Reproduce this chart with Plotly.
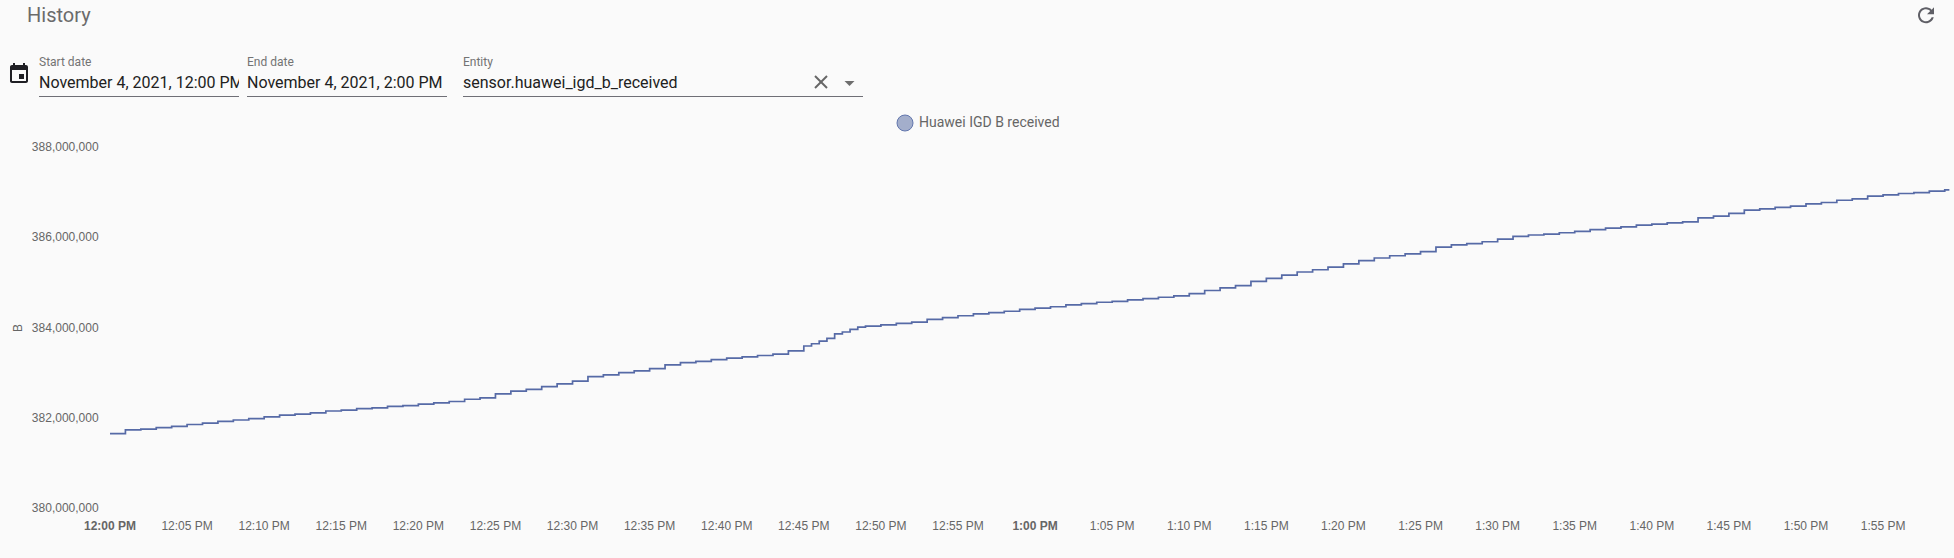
from datetime import datetime, timedelta
import plotly.graph_objects as go

# minutes after 12:00 PM and sensor reading in millions of bytes
minutes = [0, 1, 2, 3, 4, 5, 6, 7, 8, 9, 10, 11, 12, 13, 14, 15, 16, 17, 18, 19,
           20, 21, 22, 23, 24, 25, 26, 27, 28, 29, 30, 31, 32, 33, 34, 35, 36, 37, 38, 39,
           40, 41, 42, 43, 44, 45, 45.5, 46, 46.5, 47, 47.5, 48, 48.5, 49,
           50, 51, 52, 53, 54, 55, 56, 57, 58, 59,
           60, 61, 62, 63, 64, 65, 66, 67, 68, 69, 70, 71, 72, 73, 74, 75, 76, 77, 78, 79,
           80, 81, 82, 83, 84, 85, 86, 87, 88, 89, 90, 91, 92, 93, 94, 95, 96, 97, 98, 99,
           100, 101, 102, 103, 104, 105, 106, 107, 108, 109, 110, 111, 112, 113, 114, 115,
           116, 117, 118, 119, 119.3]
received = [381.65, 381.73, 381.75, 381.78, 381.81, 381.85, 381.88, 381.92, 381.95, 381.98,
            382.02, 382.06, 382.08, 382.11, 382.15, 382.17, 382.20, 382.22, 382.25, 382.27,
            382.30, 382.33, 382.36, 382.41, 382.44, 382.53, 382.59, 382.63, 382.69, 382.75,
            382.81, 382.91, 382.95, 383.00, 383.04, 383.09, 383.17, 383.22, 383.25, 383.29,
            383.32, 383.35, 383.38, 383.41, 383.48, 383.59, 383.64, 383.70, 383.76, 383.86,
            383.90, 383.96, 384.01, 384.03,
            384.06, 384.09, 384.12, 384.18, 384.22, 384.26, 384.30, 384.33, 384.36, 384.40,
            384.43, 384.46, 384.50, 384.53, 384.56, 384.58, 384.61, 384.64, 384.67, 384.70,
            384.75, 384.82, 384.88, 384.93, 385.02, 385.09, 385.16, 385.23, 385.28, 385.34,
            385.41, 385.48, 385.54, 385.59, 385.63, 385.68, 385.78, 385.83, 385.86, 385.90,
            385.96, 386.02, 386.05, 386.07, 386.10, 386.13, 386.17, 386.20, 386.23, 386.27,
            386.29, 386.32, 386.34, 386.43, 386.47, 386.53, 386.60, 386.63, 386.66, 386.69,
            386.74, 386.77, 386.82, 386.85, 386.91, 386.94, 386.97, 386.99, 387.02, 387.05,
            387.05]

tick_minutes = [0, 5, 10, 15, 20, 25, 30, 35, 40, 45, 50, 55,
                60, 65, 70, 75, 80, 85, 90, 95, 100, 105, 110, 115]
tick_labels = ["<b>12:00 PM</b>", "12:05 PM", "12:10 PM", "12:15 PM", "12:20 PM", "12:25 PM",
               "12:30 PM", "12:35 PM", "12:40 PM", "12:45 PM", "12:50 PM", "12:55 PM",
               "<b>1:00 PM</b>", "1:05 PM", "1:10 PM", "1:15 PM", "1:20 PM", "1:25 PM",
               "1:30 PM", "1:35 PM", "1:40 PM", "1:45 PM", "1:50 PM", "1:55 PM"]
y_ticks = [380000000, 382000000, 384000000, 386000000, 388000000]

WIDTH, HEIGHT = 1954, 558
LEFT, RIGHT, TOP, BOTTOM = 110, 0, 147, 50
PLOT_W = WIDTH - LEFT - RIGHT
PLOT_H = HEIGHT - TOP - BOTTOM
BG = "#fafafa"
LINE = "#566aa6"
start = datetime(2021, 11, 4, 12, 0)


def at(m):
    return start + timedelta(minutes=m)


# page pixels to paper fractions, for the form controls around the chart
def fx(px):
    return (px - LEFT) / PLOT_W


def fy(py):
    return 1 - (py - TOP) / PLOT_H


def label(text, x, y, size, color, **kw):
    return dict(text=text, x=fx(x), y=fy(y), xref="paper", yref="paper", xanchor="left",
                yanchor="middle", showarrow=False, align="left", borderpad=0, borderwidth=0,
                font=dict(family="Roboto", size=size, color=color), **kw)


def rule(x0, x1, y, color="#6f6f76"):
    return dict(type="line", xref="paper", yref="paper", x0=fx(x0), x1=fx(x1), y0=fy(y), y1=fy(y),
                line=dict(color=color, width=1))


def icon(path, ox, oy, color):
    # path is a list of commands in the 24px icon grid
    out = []
    for cmd in path:
        nums = cmd[1:]
        pts = []
        for i in range(0, len(nums), 2):
            pts.append(f"{fx(ox + nums[i]):.6f},{fy(oy + nums[i + 1]):.6f}")
        out.append(cmd[0] + " ".join(pts))
    return dict(type="path", xref="paper", yref="paper", path=" ".join(out) + " Z",
                fillcolor=color, line=dict(width=0))


calendar = [("M", 5, 3), ("L", 6, 3), ("L", 6, 1), ("L", 8, 1), ("L", 8, 3), ("L", 16, 3), ("L", 16, 1),
            ("L", 18, 1), ("L", 18, 3), ("L", 19, 3), ("C", 20.1, 3, 21, 3.9, 21, 5), ("L", 21, 19),
            ("C", 21, 20.1, 20.1, 21, 19, 21), ("L", 5, 21), ("C", 3.9, 21, 3, 20.1, 3, 19), ("L", 3, 5),
            ("C", 3, 3.9, 3.9, 3, 5, 3),
            ("M", 5, 8), ("L", 5, 19), ("L", 19, 19), ("L", 19, 8), ("L", 5, 8),
            ("M", 12, 12), ("L", 17, 12), ("L", 17, 17), ("L", 12, 17), ("L", 12, 12)]
refresh = [("M", 17.65, 6.35), ("C", 16.2, 4.9, 14.21, 4, 12, 4), ("C", 7.58, 4, 4, 7.58, 4, 12),
           ("C", 4, 16.42, 7.58, 20, 12, 20), ("C", 15.73, 20, 18.84, 17.45, 19.73, 14), ("L", 17.65, 14),
           ("C", 16.83, 16.33, 14.61, 18, 12, 18), ("C", 8.69, 18, 6, 15.31, 6, 12),
           ("C", 6, 8.69, 8.69, 6, 12, 6), ("C", 13.66, 6, 15.14, 6.69, 16.22, 7.78), ("L", 13, 11),
           ("L", 20, 11), ("L", 20, 4), ("L", 17.65, 6.35)]
arrow = [("M", 0, 0), ("L", 10, 0), ("L", 5, 5), ("L", 0, 0)]

fig = go.Figure()
fig.add_trace(go.Scatter(x=[at(m) for m in minutes], y=[v * 1000000 for v in received],
                         mode="lines", line=dict(color=LINE, width=1.7, shape="hv"),
                         hoverinfo="skip", showlegend=False))

shapes = [
    rule(39, 239, 96.5), rule(247, 447, 96.5), rule(463, 863, 96.5),
    icon(calendar, 7, 62, "#1f1f24"),
    icon(refresh, 1914, 3.3, "#5f5f66"),
    icon(arrow, 844.5, 81, "#6e6e6e"),
    dict(type="line", xref="paper", yref="paper", x0=fx(815), x1=fx(827), y0=fy(76), y1=fy(88),
         line=dict(color="#666666", width=2)),
    dict(type="line", xref="paper", yref="paper", x0=fx(815), x1=fx(827), y0=fy(88), y1=fy(76),
         line=dict(color="#666666", width=2)),
    dict(type="circle", xref="paper", yref="paper", x0=fx(897), x1=fx(913), y0=fy(115), y1=fy(131),
         fillcolor="#a3aecb", line=dict(color="#6276ad", width=1)),
]

annotations = [
    label("History", 27, 15, 20, "#6b6b6b"),
    label("Start date", 39, 62, 12, "#737373"),
    label("November 4, 2021, 12:00 PM", 39, 83, 16, "#212121", width=200),
    label("End date", 247, 62, 12, "#737373"),
    label("November 4, 2021, 2:00 PM", 247, 83, 16, "#212121"),
    label("Entity", 463, 62, 12, "#737373"),
    label("sensor.huawei_igd_b_received", 463, 83, 16, "#212121"),
    label("Huawei IGD B received", 919, 122, 14, "#666666"),
    dict(text="B", x=fx(18), y=fy(328), xref="paper", yref="paper", xanchor="center", yanchor="middle",
         showarrow=False, textangle=-90,
         font=dict(family="Liberation Sans", size=12, color="#666666")),
]

fig.update_layout(
    width=WIDTH, height=HEIGHT,
    margin=dict(l=LEFT, r=RIGHT, t=TOP, b=BOTTOM, pad=0),
    paper_bgcolor=BG, plot_bgcolor=BG,
    font=dict(family="Liberation Sans", size=12, color="#666666"),
    shapes=shapes, annotations=annotations,
    xaxis=dict(type="date", range=[at(0), at(119.6)], tickvals=[at(m) for m in tick_minutes],
               ticktext=tick_labels, showgrid=False, zeroline=False, showline=False,
               ticks="outside", ticklen=7, tickcolor=BG),
    yaxis=dict(range=[380000000, 388000000], tickvals=y_ticks, tickformat=",d", showgrid=False,
               zeroline=False, showline=False, ticks="outside", ticklen=8, tickcolor=BG),
)

fig.write_html("out.html", config=dict(displayModeBar=False),
               post_script="document.body.style.margin='0';document.body.style.overflow='hidden';")
